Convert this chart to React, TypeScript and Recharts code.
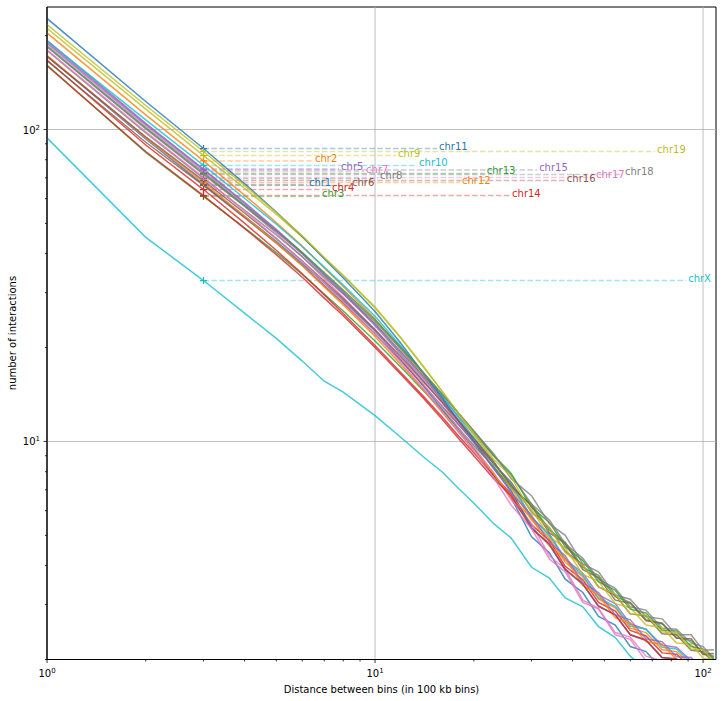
import React from "react";
import { LineChart, Line, XAxis, YAxis, ReferenceLine, ReferenceArea } from "recharts";

// distance between bins (x) and number of interactions per chromosome (y)
const distances = [1, 2, 3, 4, 5, 6, 7, 8, 10, 12, 14, 16, 18, 20, 23, 26, 30, 34, 38, 43, 48, 54, 60, 67, 75, 83, 92, 100, 108];

const chromosomes = ["chr1", "chr2", "chr3", "chr4", "chr5", "chr6", "chr7", "chr8", "chr9", "chr10", "chr11", "chr12", "chr13", "chr14", "chr15", "chr16", "chr17", "chr18", "chr19", "chrX"];

const chr1 = [172, 93.2, 66.6, 52.7, 43.8, 37.2, 32.2, 28.3, 22.6, 18.3, 15.1, 12.7, 10.9, 9.5, 7.77, 6.6, 4.95, 4.4, 3.62, 3.28, 2.75, 2.58, 2.2, 2.12, 1.86, 1.82, 1.66, 1.6, 1.5];
const chr2 = [204, 111.4, 79.3, 61.6, 50.3, 42.3, 36.0, 31.4, 24.7, 19.8, 16.2, 13.6, 11.6, 10.0, 8.27, 7.1, 5.6, 4.9, 4.1, 3.68, 3.12, 2.93, 2.52, 2.44, 2.15, 2.12, 1.92, 1.86, 1.72];
const chr3 = [161, 84.5, 61.0, 48.4, 40.3, 34.3, 29.7, 26.2, 21.0, 17.3, 14.6, 12.6, 11.0, 9.7, 8.31, 7.1, 6.3, 5.2, 4.75, 3.95, 3.72, 3.18, 3.05, 2.68, 2.6, 2.35, 2.3, 2.08, 2.05];
const chr4 = [167, 89.2, 64.2, 50.1, 41.0, 34.5, 29.5, 25.7, 20.3, 16.6, 14.0, 12.0, 10.4, 9.2, 7.77, 6.8, 5.4, 4.82, 3.98, 3.6, 3.05, 2.86, 2.48, 2.38, 2.1, 2.08, 1.88, 1.82, 1.7];
const chr5 = [193, 104.6, 74.7, 58.4, 47.9, 40.3, 34.5, 30.1, 23.8, 19.3, 16.0, 13.6, 11.7, 10.2, 8.48, 7.3, 5.7, 5.05, 4.2, 3.78, 3.22, 3.02, 2.6, 2.5, 2.22, 2.19, 1.98, 1.93, 1.78];
const chr6 = [166, 91, 66.2, 52.2, 43.2, 36.7, 31.6, 27.8, 22.1, 18.1, 15.2, 13.0, 11.3, 10.0, 8.48, 7.4, 5.95, 5.3, 4.45, 4.02, 3.42, 3.22, 2.8, 2.76, 2.42, 2.4, 2.14, 2.12, 1.95];
const chr7 = [188, 102.6, 73.3, 57.0, 46.5, 39.1, 33.3, 29.0, 22.8, 18.4, 15.3, 12.9, 11.0, 9.6, 7.93, 6.5, 5.45, 4.3, 3.9, 3.1, 2.92, 2.44, 2.36, 2.05, 1.98, 1.8, 1.73, 1.6, 1.55];
const chr8 = [179, 97.6, 69.7, 55.2, 45.9, 39.1, 33.7, 29.7, 23.8, 19.4, 16.3, 13.9, 12.0, 10.6, 8.98, 7.8, 6.3, 5.6, 4.7, 4.22, 3.62, 3.38, 2.95, 2.88, 2.52, 2.5, 2.26, 2.2, 2.02];
const chr9 = [211, 116.3, 82.5, 64.8, 53.5, 45.2, 38.8, 34.0, 27.0, 21.5, 17.5, 14.5, 12.25, 10.5, 8.64, 7.1, 6.05, 4.95, 4.55, 3.75, 3.56, 3.02, 2.93, 2.58, 2.53, 2.26, 2.24, 2.02, 2.0];
const chr10 = [192, 107.4, 76.7, 60.2, 49.7, 42.1, 36.2, 31.7, 25.2, 20.2, 16.6, 14.0, 11.9, 10.3, 8.52, 7.3, 5.7, 5.0, 4.18, 3.72, 3.15, 2.96, 2.56, 2.5, 2.19, 2.16, 1.95, 1.9, 1.76];
const chr11 = [227, 123, 86.9, 67.1, 54.4, 45.4, 38.5, 33.4, 26.1, 20.6, 16.6, 13.8, 11.6, 10.0, 8.18, 6.95, 5.3, 4.65, 3.88, 3.48, 2.96, 2.78, 2.4, 2.3, 2.03, 2.0, 1.8, 1.76, 1.64];
const chr12 = [173, 94, 67.6, 52.8, 43.4, 36.6, 31.3, 27.4, 21.7, 17.6, 14.7, 12.4, 10.7, 9.4, 7.89, 6.6, 5.68, 4.62, 4.22, 3.45, 3.22, 2.72, 2.62, 2.28, 2.24, 2.0, 1.99, 1.78, 1.76];
const chr13 = [185, 101.2, 72.3, 57.1, 47.4, 40.3, 34.8, 30.6, 24.5, 20.0, 16.7, 14.2, 12.3, 10.8, 9.02, 7.9, 6.15, 5.5, 4.6, 4.15, 3.55, 3.33, 2.9, 2.82, 2.48, 2.47, 2.2, 2.16, 2.0];
const chr14 = [160, 85, 61.4, 48.2, 39.7, 33.6, 28.8, 25.3, 20.0, 16.4, 13.8, 11.8, 10.2, 9.0, 7.6, 6.7, 5.25, 4.7, 3.9, 3.5, 2.97, 2.78, 2.4, 2.31, 2.03, 2.01, 1.8, 1.76, 1.62];
const chr15 = [190, 103.9, 74.2, 57.9, 47.5, 39.9, 34.1, 29.8, 23.5, 19.0, 15.7, 13.3, 11.4, 9.9, 8.24, 6.85, 5.8, 4.75, 4.3, 3.52, 3.28, 2.78, 2.68, 2.33, 2.28, 2.04, 2.03, 1.82, 1.8];
const chr16 = [171.5, 94.7, 68.6, 54.0, 44.7, 37.9, 32.7, 28.7, 22.8, 18.7, 15.6, 13.4, 11.6, 10.2, 8.6, 7.2, 6.2, 5.1, 4.7, 3.88, 3.66, 3.1, 3.03, 2.66, 2.62, 2.34, 2.33, 2.08, 2.09];
const chr17 = [180, 98.3, 70.2, 54.7, 44.8, 37.7, 32.2, 28.1, 22.1, 17.9, 14.8, 12.5, 10.7, 9.3, 7.64, 6.25, 5.25, 4.2, 3.82, 3.05, 2.9, 2.4, 2.32, 1.98, 1.96, 1.75, 1.7, 1.57, 1.54];
const chr18 = [184, 100.5, 71.8, 56.7, 47.0, 40.0, 34.5, 30.3, 24.2, 19.8, 16.6, 14.2, 12.3, 10.8, 9.14, 7.6, 6.7, 5.45, 5.0, 4.05, 3.82, 3.22, 3.12, 2.74, 2.7, 2.4, 2.4, 2.14, 2.15];
const chr19 = [217, 119.4, 85.0, 66.2, 54.2, 45.6, 38.9, 34.0, 26.8, 21.4, 17.4, 14.5, 12.3, 10.6, 8.77, 7.7, 5.9, 5.3, 4.4, 4.0, 3.42, 3.24, 2.8, 2.78, 2.45, 2.44, 2.16, 2.15, 1.97];
const chrX = [94, 45.1, 32.8, 25.8, 21.4, 18.1, 15.6, 14.4, 12.1, 10.3, 8.95, 8.0, 7.05, 6.35, 5.45, 4.9, 3.95, 3.65, 3.15, 2.95, 2.55, 2.35, 2.05, 1.84, 1.66, 1.52, 1.4, 1.3, 1.22];

const series = [chr1, chr2, chr3, chr4, chr5, chr6, chr7, chr8, chr9, chr10, chr11, chr12, chr13, chr14, chr15, chr16, chr17, chr18, chr19, chrX];

// where each dashed marker line ends and its label starts
const labelDistance = [6.2, 6.47, 6.8, 7.29, 7.77, 8.39, 9.26, 10.21, 11.59, 13.43, 15.45, 18.16, 21.6, 25.8, 31.2, 37.9, 46.5, 57.0, 71.4, 88.8];
const markDistance = 3;

const tab10 = ["#1f77b4", "#ff7f0e", "#2ca02c", "#d62728", "#9467bd", "#8c564b", "#e377c2", "#7f7f7f", "#bcbd22", "#17becf"];

const xTicks = [1, 2, 3, 4, 5, 6, 7, 8, 9, 10, 20, 30, 40, 50, 60, 70, 80, 90, 100];
const yTicks = [2, 3, 4, 5, 6, 7, 8, 9, 10, 20, 30, 40, 50, 60, 70, 80, 90, 100, 200];
const xDomain = [1, 109.5];
const yDomain = [2, 247];

const FONT = "DejaVu Sans, sans-serif";

const rows = distances.map((d, i) => {
  const r: any = { d };
  chromosomes.forEach((c, j) => (r[c] = series[j][i]));
  return r;
});

function exponent(v: number) {
  return Math.round(Math.log10(v));
}
function isMajor(v: number) {
  return Math.abs(Math.log10(v) - exponent(v)) < 1e-9;
}

function XTick(props: any) {
  const { x, y, payload } = props;
  const v = payload.value;
  const major = isMajor(v);
  return (
    <g>
      <line x1={x} x2={x} y1={y} y2={y + (major ? 3.5 : 2)} stroke="#000" strokeWidth={0.8} />
      {major && (
        <text x={x} y={y + 17.5} textAnchor="middle" fontSize={10} fontFamily={FONT} fill="#000">
          10<tspan dy={-4} fontSize={7}>{exponent(v)}</tspan>
        </text>
      )}
    </g>
  );
}

function YTick(props: any) {
  const { x, y, payload } = props;
  const v = payload.value;
  const major = isMajor(v);
  return (
    <g>
      <line x1={x} x2={x - (major ? 3.5 : 2)} y1={y} y2={y} stroke="#000" strokeWidth={0.8} />
      {major && (
        <text x={x - 7} y={y + 4} textAnchor="end" fontSize={10} fontFamily={FONT} fill="#000">
          10<tspan dy={-4} fontSize={7}>{exponent(v)}</tspan>
        </text>
      )}
    </g>
  );
}

export default function App() {
  return (
    <div style={{ position: "absolute", left: 0, top: 0, width: 723, height: 701, background: "#fff" }}>
      <LineChart width={723} height={701} data={rows} margin={{ top: 7, right: 7, bottom: 0, left: 0 }}>
        <XAxis
          dataKey="d"
          type="number"
          scale="log"
          domain={xDomain}
          allowDataOverflow
          ticks={xTicks}
          interval={0}
          tickLine={false}
          tickSize={0}
          tickMargin={0}
          tick={(p: any) => <XTick {...p} />}
          height={41.5}
          axisLine={{ stroke: "#000", strokeWidth: 1 }}
        />
        <YAxis
          type="number"
          scale="log"
          domain={yDomain}
          allowDataOverflow
          ticks={yTicks}
          interval={0}
          tickLine={false}
          tickSize={0}
          tickMargin={0}
          tick={(p: any) => <YTick {...p} />}
          width={47}
          axisLine={{ stroke: "#000", strokeWidth: 1 }}
        />
        <ReferenceLine x={10} stroke="#b0b0b0" strokeWidth={0.8} />
        <ReferenceLine x={100} stroke="#b0b0b0" strokeWidth={0.8} />
        <ReferenceLine y={10} stroke="#b0b0b0" strokeWidth={0.8} />
        <ReferenceLine y={100} stroke="#b0b0b0" strokeWidth={0.8} />

        {chromosomes.map((name, j) => {
          const color = tab10[j % 10];
          const level = series[j][distances.indexOf(markDistance)];
          const seg = [
            { d: markDistance, v: level },
            { d: labelDistance[j], v: level },
          ];
          return (
            <Line
              key={"mark-" + name}
              data={seg}
              dataKey="v"
              type="linear"
              stroke={color}
              strokeOpacity={0.4}
              strokeWidth={1.5}
              strokeDasharray="5.5 2.4"
              isAnimationActive={false}
              activeDot={false}
              dot={(p: any) =>
                p.index === 0 ? (
                  <path
                    key={"plus-" + name}
                    d={`M${p.cx - 3.5},${p.cy}H${p.cx + 3.5}M${p.cx},${p.cy - 3.5}V${p.cy + 3.5}`}
                    stroke={color}
                    strokeWidth={1.2}
                    fill="none"
                  />
                ) : (
                  <text key={"lbl-" + name} x={p.cx + 2} y={p.cy + 1} fill={color} fontSize={10} fontFamily={FONT}>
                    {name}
                  </text>
                )
              }
            />
          );
        })}

        {chromosomes.map((name, j) => (
          <Line
            key={name}
            dataKey={name}
            type="linear"
            stroke={tab10[j % 10]}
            strokeOpacity={0.8}
            strokeWidth={1.5}
            dot={false}
            activeDot={false}
            isAnimationActive={false}
          />
        ))}

        <ReferenceArea x1={xDomain[0]} x2={xDomain[1]} y1={yDomain[0]} y2={yDomain[1]} fill="none" stroke="#000" strokeWidth={1} />
      </LineChart>
      <svg width={723} height={701} style={{ position: "absolute", left: 0, top: 0, pointerEvents: "none" }}>
        <text x={381.5} y={693} textAnchor="middle" fontSize={10} fontFamily={FONT} fill="#000">
          Distance between bins (in 100 kb bins)
        </text>
        <text transform="translate(15.5,333) rotate(-90)" textAnchor="middle" fontSize={10} fontFamily={FONT} fill="#000">
          number of interactions
        </text>
      </svg>
    </div>
  );
}
